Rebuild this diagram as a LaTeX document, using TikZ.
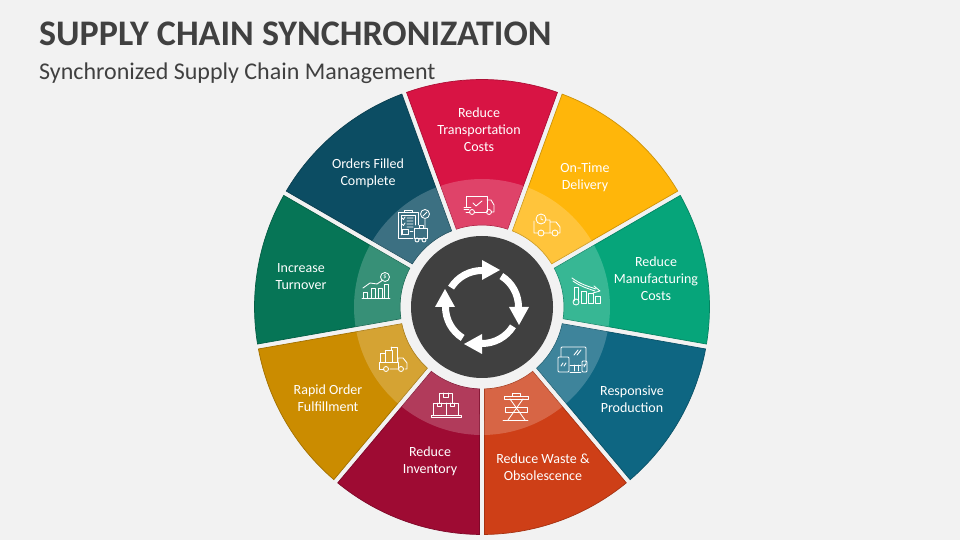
\documentclass[tikz,border=0pt]{standalone}
\usepackage{fontspec}
\setmainfont{Carlito}
\usetikzlibrary{calc}

\definecolor{pagebg}{HTML}{F2F2F2}
\definecolor{inkgrey}{HTML}{404040}
\definecolor{cCrimson}{HTML}{D81444}
\definecolor{cAmber}{HTML}{FFB60A}
\definecolor{cTeal}{HTML}{06A57A}
\definecolor{cOcean}{HTML}{0E6682}
\definecolor{cRust}{HTML}{CE3F17}
\definecolor{cWine}{HTML}{9E0B33}
\definecolor{cGold}{HTML}{CB8C00}
\definecolor{cPine}{HTML}{067556}
\definecolor{cNavy}{HTML}{0C4D63}

\tikzset{
    label/.style={text=white, align=center, font=\fontsize{14}{17}\selectfont},
    icon/.style={draw=white, line width=0.85pt, line join=round, line cap=round},
    pics/truckcheck/.style={code={
        \draw[icon] (-9,-7) -- (-13,-7) (-13,-2) -- (-13,9) -- (8,9) -- (8,-7) (-4.5,-7) -- (7.5,-7);
        \draw[icon] (8,5) -- (12,5) -- (15,0) -- (15,-7) -- (12.5,-7);
        \draw[icon] (-7,-7) circle (2.5) (10,-7) circle (2.5);
        \draw[icon] (-15,-2) -- (-8,-2) (-15,-4.5) -- (-10,-4.5);
        \draw[icon] (-6,2) -- (-3,-1) -- (3,4);
    }},
    pics/truckclock/.style={code={
        \draw[icon] (-12,5) -- (-12,-7) -- (-8,-7) (-2,-7) -- (6,-7) (12,-7) -- (14,-7) -- (14,-1) -- (10,4) -- (4,4) (4,4) -- (4,-7) (0,6) -- (4,6) -- (4,4);
        \draw[icon] (-5,-7) circle (3) (9,-7) circle (3);
        \draw[icon] (-5,7) circle (5) (-5,9.5) -- (-5,7) -- (-3,6);
    }},
    pics/clipboardtruck/.style={code={
        \draw[icon] (1,-12) -- (-14,-12) -- (-14,14) -- (6,14) -- (6,1);
        \draw[icon] (-11,-9) -- (-11,11) -- (3,11) -- (3,1);
        \draw[icon] (-8,14) -- (-8,16) -- (0,16) -- (0,14);
        \draw[icon] (-10,8) -- (-8.5,6.5) -- (-7,9) (-5,8) -- (1,8) (-5,5) -- (1,5);
        \draw[icon] (-10,2) -- (-8.5,0.5) -- (-7,3) (-5,2) -- (1,2) (-5,-1) -- (1,-1);
        \draw[icon] (-10,-8) rectangle (-4,-3) (-2,-5) -- (1,-5);
        \draw[icon] (13,12) circle (4.5) (11,10) -- (15,14) (13,7.5) -- (13,-2);
        \draw[icon] (2,-2) rectangle (15,-12);
        \draw[icon] (5,-14) circle (2) (12,-14) circle (2) (7,-13) -- (10,-13);
        \draw[icon] (7,-2) -- (7,1) -- (11,1) -- (11,-2);
    }},
    pics/chartup/.style={code={
        \draw[icon] (-14,-10) -- (14,-10);
        \draw[icon] (-13,-10) -- (-13,-4) -- (-9,-4) -- (-9,-10);
        \draw[icon] (-5,-10) -- (-5,0) -- (-1,0) -- (-1,-10);
        \draw[icon] (2,-10) -- (2,0) -- (6,0) -- (6,-10);
        \draw[icon] (8,-10) -- (8,4) -- (12,4) -- (12,-10);
        \draw[icon] (-13,0) -- (-6,5) -- (1,4) -- (7,8);
        \draw[icon] (9,11) circle (4.5);
        \node[text=white, inner sep=0pt, font=\fontsize{6.5}{7}\selectfont] (dollar) at (9,11) {\$};
    }},
    pics/chartdown/.style={code={
        \draw[icon] (-11,-9) -- (-11,5) -- (-7,5) -- (-7,-9);
        \draw[icon] (-9,-10) circle (3);
        \draw[icon] (-4,-11) rectangle (1,1);
        \draw[icon] (3,-11) rectangle (8,-1);
        \draw[icon] (10,-11) rectangle (15,-4);
        \draw[icon] (-13,14) .. controls (-5,8) and (2,6) .. (11,3);
        \draw[icon] (-12,11) .. controls (-5,6) and (1,4) .. (10,1);
        \draw[icon] (9,6) -- (15,1) -- (8,-1);
    }},
    pics/devicesicon/.style={code={
        \draw[icon, rounded corners=1pt] (-12,4) -- (-12,14) -- (13,14) -- (13,-4) -- (9,-4);
        \draw[icon] (-3,-4) -- (8,-4) (1,-4) -- (1,-10) (5,-4) -- (5,-10) (-3,-11) -- (8,-11);
        \draw[icon, rounded corners=1pt] (-15,-11) rectangle (-4,4);
        \draw[icon, rounded corners=1pt] (9,-11) rectangle (14,0);
        \draw[icon] (1,6) -- (5,11) (4,6) -- (8,11);
        \draw[icon] (-12,-5) -- (-10,-2) (-9,-5) -- (-7,-2) (11,-6) -- (12,-4);
    }},
    pics/scissortable/.style={code={
        \draw[icon] (-3,11) -- (-3,13.5) -- (5,13.5) -- (5,11);
        \draw[icon] (-11,8) rectangle (13,11);
        \draw[icon] (-5,8) -- (10,-13) (8,8) -- (-7,-13);
        \draw[icon] (-10,0) rectangle (12,-5);
        \draw[icon] (-12,-13) -- (13,-13);
    }},
    pics/boxesicon/.style={code={
        \draw[icon] (-6,2) -- (-6,12) -- (7,12) -- (7,2);
        \draw[icon] (-12,-10) -- (-12,2) -- (13,2) -- (13,-10) (1,2) -- (1,-10);
        \draw[icon] (-14,-10) rectangle (16,-12);
        \draw[icon] (-2,12) -- (-2,8) -- (3,8) -- (3,12);
        \draw[icon] (-8,2) -- (-8,-1) -- (-4,-1) -- (-4,2) (5,2) -- (5,-1) -- (9,-1) -- (9,2);
    }},
    pics/truckboxes/.style={code={
        \draw[icon] (-9,-11) -- (-14,-11) -- (-14,-4) -- (5,-4) -- (5,-11);
        \draw[icon] (-3,-11) -- (5,-11) (12,-11) -- (14,-11) -- (14,-5) -- (10,0) -- (5,0) -- (5,-4);
        \draw[icon] (-7,-11) circle (2.5) (8,-11) circle (2.5);
        \draw[icon] (-13,-4) -- (-13,5) -- (-8,5) -- (-8,-4);
        \draw[icon] (-8,8) rectangle (-1,-4);
        \draw[icon] (-2,11) -- (4,11) -- (4,-4) (-2,11) -- (-2,8);
    }},
}

\begin{document}
\begin{tikzpicture}[x=1pt,y=1pt]
    \useasboundingbox[fill=pagebg] (0,0) rectangle (960,540);
    \coordinate (hub) at (482,233);

    \node[anchor=base west, inner sep=0pt, text=inkgrey, font=\bfseries\fontsize{36}{40}\selectfont] (title) at (39,494) {SUPPLY CHAIN SYNCHRONIZATION};
    \node[anchor=base west, inner sep=0pt, text=inkgrey, font=\fontsize{24}{28}\selectfont] (subtitle) at (39,460) {Synchronized Supply Chain Management};

    % nine wedges, 40 degrees each
    \foreach \start/\col in {70/cCrimson, 30/cAmber, -10/cTeal, -50/cOcean, -90/cRust, 230/cWine, 190/cGold, 150/cPine, 110/cNavy} {
        \pgfmathsetmacro{\stop}{\start+40}
        \draw[fill=\col, draw=\col!80!black, line width=0.7pt]
            ($(hub)+(\start+1.8:82)$) arc[start angle=\start+1.8, end angle=\stop-1.8, radius=82]
            -- ($(hub)+(\stop-0.63:227.5)$) arc[start angle=\stop-0.63, end angle=\start+0.63, radius=227.5] -- cycle;
        \fill[white, opacity=0.2]
            ($(hub)+(\start+1.8:82)$) arc[start angle=\start+1.8, end angle=\stop-1.8, radius=82]
            -- ($(hub)+(\stop-1.1:128)$) arc[start angle=\stop-1.1, end angle=\start+1.1, radius=128] -- cycle;
    }

    % hub with the four arrows
    \fill[inkgrey] (hub) circle (71);
    \foreach \turn in {0,-90,-180,-270} {
        \begin{scope}[shift={(hub)}, rotate=\turn]
            \fill[white] (148:33) arc[start angle=148, end angle=90, radius=33] -- (0,27) -- (18,37) -- (0,47) -- (0,40) arc[start angle=90, end angle=148, radius=40] -- cycle;
        \end{scope}
    }

    \node[label] (transport) at (479,410) {Reduce\\Transportation\\Costs};
    \node[label] (ontime) at (585,363) {On-Time\\Delivery};
    \node[label] (manufacturing) at (656,261) {Reduce\\Manufacturing\\Costs};
    \node[label] (responsive) at (632,141) {Responsive\\Production};
    \node[label] (waste) at (543,73) {Reduce Waste \&\\Obsolescence};
    \node[label] (inventory) at (430,79) {Reduce\\Inventory};
    \node[label] (rapid) at (328,142) {Rapid Order\\Fulfillment};
    \node[label] (turnover) at (301,263) {Increase\\Turnover};
    \node[label] (orders) at (368,367) {Orders Filled\\Complete};

    \pic at (479,335) {truckcheck};
    \pic at (546,314) {truckclock};
    \pic at (412,314) {clipboardtruck};
    \pic at (376,252) {chartup};
    \pic at (585,248) {chartdown};
    \pic at (573,179) {devicesicon};
    \pic at (515,133) {scissortable};
    \pic at (445,135) {boxesicon};
    \pic at (393,182) {truckboxes};
\end{tikzpicture}
\end{document}
